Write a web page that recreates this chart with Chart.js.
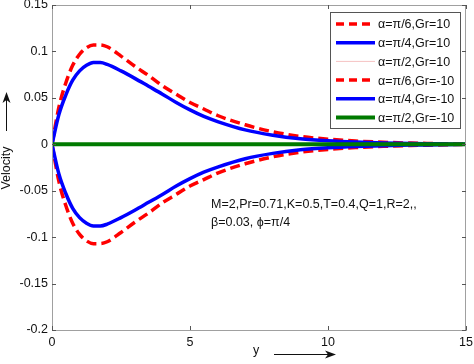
<!DOCTYPE html>
<html>
<head>
<meta charset="utf-8">
<script src="https://cdn.jsdelivr.net/npm/chart.js@4.4.0/dist/chart.umd.min.js"></script>
<style>
  html, body { margin: 0; padding: 0; background: #fff; }
  #wrap { width: 474px; height: 364px; }
</style>
</head>
<body>
<div id="wrap"><canvas id="c" width="474" height="364"></canvas></div>
<script>
// y positions (x axis of the plot)
const yPos = [0, 0.25, 0.5, 0.75, 1, 1.25, 1.5, 1.75, 2, 2.5, 3, 3.5, 4, 4.5, 5, 5.5, 6, 7, 8, 9, 10, 11, 12, 13, 14, 15];
// velocity, alpha=pi/6, Gr=10
const velPi6 = [0, 0.040, 0.066, 0.085, 0.097, 0.104, 0.107, 0.107, 0.105, 0.095, 0.084, 0.074, 0.063, 0.054, 0.045, 0.038, 0.031, 0.021, 0.0135, 0.0085, 0.0055, 0.0035, 0.0022, 0.0013, 0.0007, 0];
// velocity, alpha=pi/4, Gr=10
const velPi4 = [0, 0.032, 0.053, 0.069, 0.079, 0.085, 0.088, 0.088, 0.086, 0.079, 0.071, 0.0625, 0.054, 0.045, 0.037, 0.030, 0.0245, 0.0155, 0.0098, 0.006, 0.0038, 0.0024, 0.0015, 0.0009, 0.0005, 0];
// velocity, alpha=pi/2 (both Gr)
const velPi2 = [0, 0, 0, 0, 0, 0, 0, 0, 0, 0, 0, 0, 0, 0, 0, 0, 0, 0, 0, 0, 0, 0, 0, 0, 0, 0];
// Gr=-10 curves
const velPi6Neg = [0, -0.040, -0.066, -0.085, -0.097, -0.104, -0.107, -0.107, -0.105, -0.095, -0.084, -0.074, -0.063, -0.054, -0.045, -0.038, -0.031, -0.021, -0.0135, -0.0085, -0.0055, -0.0035, -0.0022, -0.0013, -0.0007, 0];
const velPi4Neg = [0, -0.032, -0.053, -0.069, -0.079, -0.085, -0.088, -0.088, -0.086, -0.079, -0.071, -0.0625, -0.054, -0.045, -0.037, -0.030, -0.0245, -0.0155, -0.0098, -0.006, -0.0038, -0.0024, -0.0015, -0.0009, -0.0005, 0];

const xTicks = [0, 5, 10, 15];
const yTicks = [0.15, 0.1, 0.05, 0, -0.05, -0.1, -0.15, -0.2];
const yTickLabels = ['0.15', '0.1', '0.05', '0', '-0.05', '-0.1', '-0.15', '-0.2'];
const seriesNames = ['\u03b1=\u03c0/6,Gr=10', '\u03b1=\u03c0/4,Gr=10', '\u03b1=\u03c0/2,Gr=10', '\u03b1=\u03c0/6,Gr=-10', '\u03b1=\u03c0/4,Gr=-10', '\u03b1=\u03c0/2,Gr=-10'];
const noteLines = ['M=2,Pr=0.71,K=0.5,T=0.4,Q=1,R=2,,', '\u03b2=0.03, \u03d5=\u03c0/4'];

const FONT = '"Liberation Sans", Arial, sans-serif';
const AXIS = '#a0a0a0';

function pts(vals) {
    return yPos.map((x, i) => ({x: x, y: vals[i]}));
}

const styles = [
    {color: '#ff0000', width: 3.5, dash: [10, 5], order: 3},
    {color: '#0000ff', width: 3.5, dash: [], order: 2},
    {color: '#f5c2c2', width: 1, dash: [], order: 4},
    {color: '#ff0000', width: 3.5, dash: [10, 5], order: 3},
    {color: '#0000ff', width: 3.5, dash: [], order: 2},
    {color: '#007a00', width: 4, dash: [], order: 0}
];
const seriesVals = [velPi6, velPi4, velPi2, velPi6Neg, velPi4Neg, velPi2];

const datasets = seriesVals.map((v, i) => ({
    label: seriesNames[i],
    data: pts(v),
    borderColor: styles[i].color,
    borderWidth: styles[i].width,
    borderDash: styles[i].dash,
    order: styles[i].order,
    pointRadius: 0,
    cubicInterpolationMode: 'monotone',
    fill: false
}));

function arrowHead(ctx, x, y, dir) {
    ctx.beginPath();
    if (dir === 'right') {
        ctx.moveTo(x, y);
        ctx.lineTo(x - 11, y - 4);
        ctx.lineTo(x - 8, y);
        ctx.lineTo(x - 11, y + 4);
    } else {
        ctx.moveTo(x, y);
        ctx.lineTo(x - 4, y + 11);
        ctx.lineTo(x, y + 8);
        ctx.lineTo(x + 4, y + 11);
    }
    ctx.closePath();
    ctx.fill();
}

const extras = {
    id: 'extras',
    afterDraw(chart) {
        const ctx = chart.ctx;
        const a = chart.chartArea;
        const xs = chart.scales.x, ys = chart.scales.y;
        ctx.save();
        // box
        ctx.strokeStyle = AXIS;
        ctx.lineWidth = 1;
        ctx.strokeRect(a.left + 0.5, a.top + 0.5, a.right - a.left - 1, a.bottom - a.top);
        // inward ticks
        ctx.strokeStyle = '#555';
        ctx.beginPath();
        yTicks.forEach(v => {
            const py = Math.round(ys.getPixelForValue(v)) + 0.5;
            ctx.moveTo(a.left, py); ctx.lineTo(a.left + 4, py);
            ctx.moveTo(a.right, py); ctx.lineTo(a.right - 4, py);
        });
        xTicks.forEach(v => {
            const px = Math.round(xs.getPixelForValue(v)) + 0.5;
            ctx.moveTo(px, a.bottom); ctx.lineTo(px, a.bottom - 4);
            ctx.moveTo(px, a.top); ctx.lineTo(px, a.top + 4);
        });
        ctx.stroke();

        // axis titles with arrows
        ctx.fillStyle = '#111';
        ctx.strokeStyle = '#111';
        ctx.font = '12.5px ' + FONT;
        ctx.textAlign = 'center';
        ctx.textBaseline = 'middle';
        ctx.fillText('y', 256, 351);
        ctx.beginPath();
        ctx.moveTo(274, 354.5); ctx.lineTo(330, 354.5);
        ctx.stroke();
        arrowHead(ctx, 336, 354.5, 'right');

        ctx.save();
        ctx.translate(7, 168);
        ctx.rotate(-Math.PI / 2);
        ctx.fillText('Velocity', 0, 0);
        ctx.restore();
        ctx.beginPath();
        ctx.moveTo(6.5, 131); ctx.lineTo(6.5, 98);
        ctx.stroke();
        arrowHead(ctx, 6.5, 92, 'up');

        // annotation
        ctx.font = '12.5px ' + FONT;
        ctx.textAlign = 'left';
        ctx.fillStyle = '#111';
        ctx.fillText(noteLines[0], 211, 205);
        ctx.fillText(noteLines[1], 211, 223);

        // legend
        const lx = 330, ly = 12, lw = 130, lh = 116;
        ctx.fillStyle = '#fff';
        ctx.fillRect(lx, ly, lw, lh);
        ctx.strokeStyle = '#555';
        ctx.lineWidth = 1;
        ctx.strokeRect(lx + 0.5, ly + 0.5, lw, lh);
        seriesNames.forEach((name, i) => {
            const yy = ly + 12 + i * 18.7;
            const s = styles[i];
            ctx.strokeStyle = s.color;
            ctx.lineWidth = s.width;
            ctx.setLineDash(s.dash.length ? [8, 5] : []);
            ctx.beginPath();
            ctx.moveTo(336, yy); ctx.lineTo(375, yy);
            ctx.stroke();
            ctx.setLineDash([]);
            ctx.fillStyle = '#111';
            ctx.fillText(name, 378, yy + 1);
        });
        ctx.restore();
    }
};

new Chart(document.getElementById('c'), {
    type: 'line',
    data: {datasets: datasets},
    options: {
        responsive: false,
        animation: false,
        layout: {padding: {top: 5, right: 8, left: 0, bottom: 0}},
        plugins: {legend: {display: false}, tooltip: {enabled: false}},
        scales: {
            x: {
                type: 'linear',
                min: 0, max: 15,
                afterFit(scale) { scale.height = 34; scale.paddingLeft = 0; scale.paddingRight = 0; },
                afterBuildTicks(scale) { scale.ticks = xTicks.map(v => ({value: v})); },
                grid: {display: false, drawTicks: false},
                border: {display: true, color: AXIS},
                ticks: {color: '#111', padding: 5, maxRotation: 0, font: {family: FONT, size: 12.5}}
            },
            y: {
                min: -0.2, max: 0.15,
                afterFit(scale) { scale.width = 52; scale.paddingTop = 0; scale.paddingBottom = 0; },
                afterBuildTicks(scale) { scale.ticks = yTicks.map(v => ({value: v})); },
                grid: {display: false, drawTicks: false},
                border: {display: true, color: AXIS},
                ticks: {
                    color: '#111', padding: 4, font: {family: FONT, size: 12.5},
                    callback: (v) => { const i = yTicks.findIndex(t => Math.abs(t - v) < 1e-9); return i >= 0 ? yTickLabels[i] : ''; }
                }
            }
        }
    },
    plugins: [extras]
});
</script>
</body>
</html>
